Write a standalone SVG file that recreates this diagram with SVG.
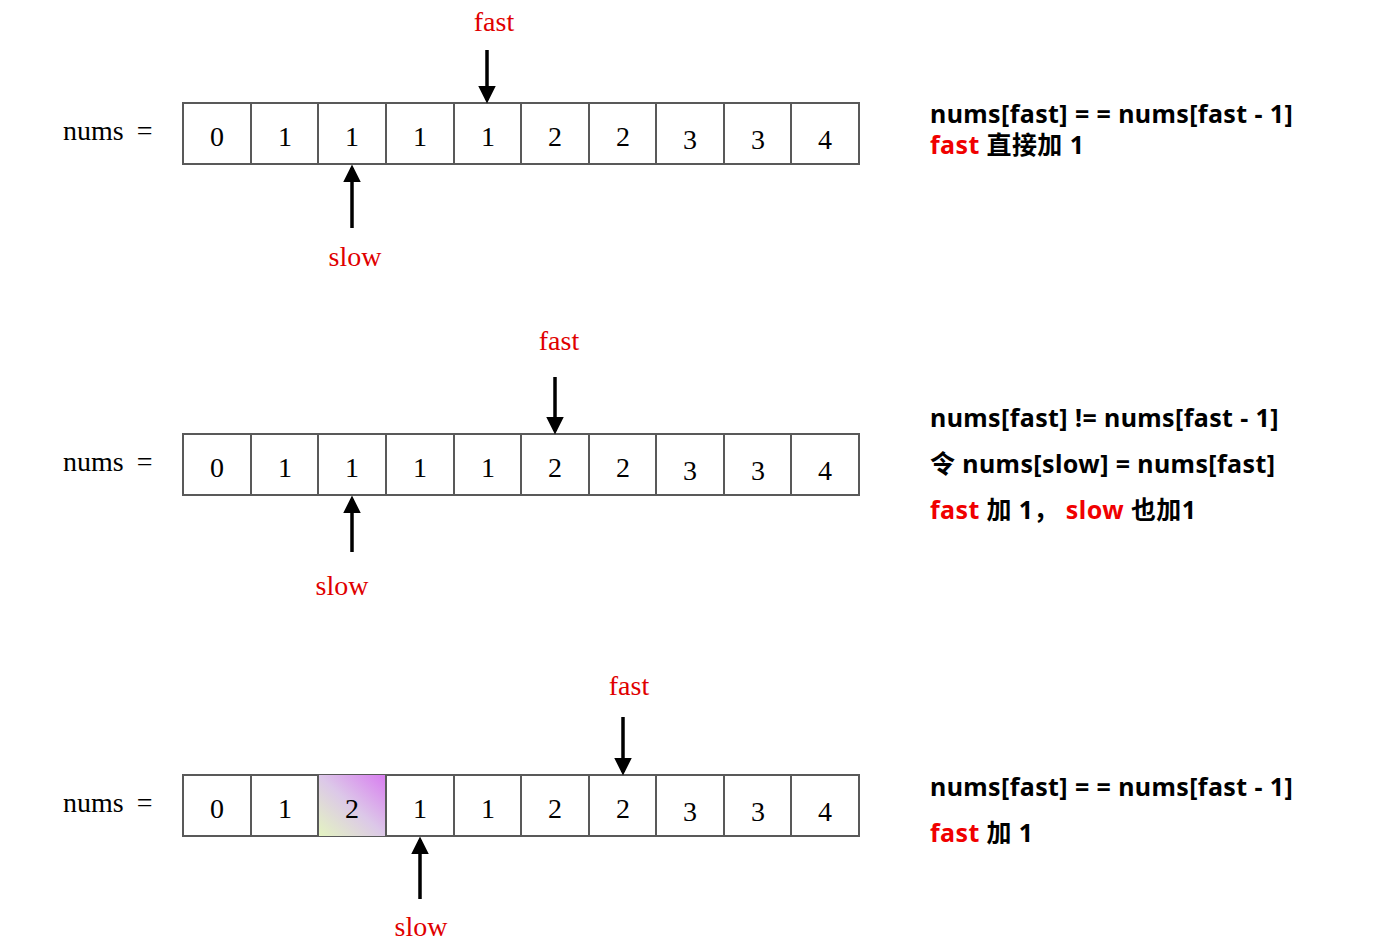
<svg xmlns="http://www.w3.org/2000/svg" width="1383" height="950" viewBox="0 0 1383 950">
<style>
.c{fill:#fff;stroke:#595959;stroke-width:2}
.n{font-family:"Liberation Serif",serif;font-size:28px;text-anchor:middle;fill:#000}
.lab{font-family:"Liberation Serif",serif;font-size:28px;fill:#000;word-spacing:6px}
.p{font-family:"Liberation Serif",serif;font-size:28px;text-anchor:middle;fill:#e00000}
.t{font-family:"Noto Sans","Noto Sans CJK SC",sans-serif;font-weight:bold;font-size:25px;fill:#000;letter-spacing:0.4px}
.r{fill:#f00000}
.a{stroke:#000;stroke-width:3.5;fill:none;marker-end:url(#ah)}
</style>
<defs>
<marker id="ah" markerWidth="5" markerHeight="5" refX="4" refY="2.5" orient="auto"><path d="M0,0L5,2.5L0,5Z" fill="#000"/></marker>
<linearGradient id="g" x1="0" y1="1" x2="1" y2="0"><stop offset="0" stop-color="#e4f5c0"/><stop offset="0.5" stop-color="#dcc8e8"/><stop offset="1" stop-color="#d87cf0"/></linearGradient>
</defs>
<g id="row1">
<text class="lab" x="63" y="140">nums =</text>
<rect class="c" x="183" y="103" width="676" height="61"/>
<path d="M251 103v61M318 103v61M386 103v61M454 103v61M521 103v61M589 103v61M656 103v61M724 103v61M791 103v61" stroke="#595959" stroke-width="2"/>
<text class="n" x="217" y="146">0</text><text class="n" x="285" y="146">1</text><text class="n" x="352" y="146">1</text><text class="n" x="420" y="146">1</text><text class="n" x="488" y="146">1</text><text class="n" x="555" y="146">2</text><text class="n" x="623" y="146">2</text><text class="n" x="690" y="149">3</text><text class="n" x="758" y="149">3</text><text class="n" x="825" y="149">4</text>
</g>
<g id="row2">
<text class="lab" x="63" y="471">nums =</text>
<rect class="c" x="183" y="434" width="676" height="61"/>
<path d="M251 434v61M318 434v61M386 434v61M454 434v61M521 434v61M589 434v61M656 434v61M724 434v61M791 434v61" stroke="#595959" stroke-width="2"/>
<text class="n" x="217" y="477">0</text><text class="n" x="285" y="477">1</text><text class="n" x="352" y="477">1</text><text class="n" x="420" y="477">1</text><text class="n" x="488" y="477">1</text><text class="n" x="555" y="477">2</text><text class="n" x="623" y="477">2</text><text class="n" x="690" y="480">3</text><text class="n" x="758" y="480">3</text><text class="n" x="825" y="480">4</text>
</g>
<g id="row3">
<text class="lab" x="63" y="812">nums =</text>
<rect class="c" x="183" y="775" width="676" height="61"/>
<rect x="318" y="775" width="68" height="61" fill="url(#g)"/>
<path d="M251 775v61M318 775v61M386 775v61M454 775v61M521 775v61M589 775v61M656 775v61M724 775v61M791 775v61" stroke="#595959" stroke-width="2"/>
<text class="n" x="217" y="818">0</text><text class="n" x="285" y="818">1</text><text class="n" x="352" y="818">2</text><text class="n" x="420" y="818">1</text><text class="n" x="488" y="818">1</text><text class="n" x="555" y="818">2</text><text class="n" x="623" y="818">2</text><text class="n" x="690" y="821">3</text><text class="n" x="758" y="821">3</text><text class="n" x="825" y="821">4</text>
</g>
<g id="connectors">
<path class="a" d="M487 50V100"/>
<path class="a" d="M352 228V168"/>
<path class="a" d="M555 377V431"/>
<path class="a" d="M352 552V499"/>
<path class="a" d="M623 717V772"/>
<path class="a" d="M420 899V840"/>
</g>
<g id="pointers">
<text class="p" x="494" y="31">fast</text>
<text class="p" x="355" y="266">slow</text>
<text class="p" x="559" y="350">fast</text>
<text class="p" x="342" y="595">slow</text>
<text class="p" x="629" y="695">fast</text>
<text class="p" x="421" y="936">slow</text>
</g>
<g id="notes">
<text class="t" x="930" y="123">nums[fast] = = nums[fast - 1]</text>
<text class="t" x="930" y="154"><tspan class="r">fast</tspan> 直接加 1</text>
<text class="t" x="930" y="427">nums[fast] != nums[fast - 1]</text>
<text class="t" x="930" y="473">令 nums[slow]  =  nums[fast]</text>
<text class="t" x="930" y="519"><tspan class="r">fast</tspan> 加 1，  <tspan class="r">slow</tspan> 也加1</text>
<text class="t" x="930" y="796">nums[fast] = = nums[fast - 1]</text>
<text class="t" x="930" y="842"><tspan class="r">fast</tspan> 加 1</text>
</g>
</svg>
